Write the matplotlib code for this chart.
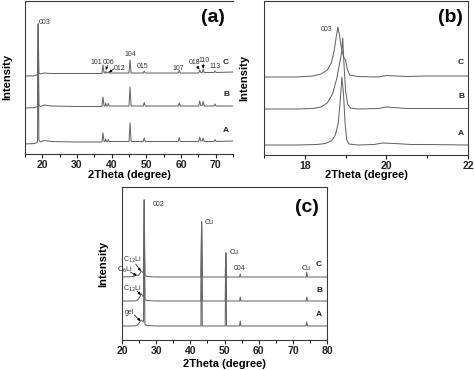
import numpy as np
import matplotlib.pyplot as plt

plt.rcParams['font.family'] = ['Liberation Sans', 'DejaVu Sans']

# ---------- panel (a): full XRD patterns, 15-75 deg ----------
x_a = [15, 17.8, 18.6, 18.8, 19.0, 19.4, 20.5, 22.5, 30,
       37.2, 37.5, 37.8, 38.1, 38.3, 38.5, 38.8, 39.0, 39.3,
       45.0, 45.3, 45.6, 49.1, 49.4, 49.7, 59.2, 59.5, 59.8,
       65.1, 65.4, 65.7, 66.1, 66.4, 66.7, 69.5, 69.8, 70.1, 75]
A_a = [0, 0.5, 2, 120, 4, 2, 3.5, 2.5, 2,
       2, 11, 2.5, 2.5, 5, 2.5, 2.5, 4.5, 2.5,
       2.5, 21, 2.5, 2.5, 6, 2.5, 2.5, 6.5, 2.5,
       2.5, 7, 3, 3, 6, 2.5, 2.5, 4.5, 2.5, 3]
B_a = [0, 0.3, 1.5, 84, 3, 1.5, 3, 2, 1.5,
       1.5, 11, 2, 2, 5, 2, 2, 4.5, 2,
       2, 21, 2, 2, 5.5, 2, 2, 5, 2,
       2, 7, 2.5, 2.5, 6.5, 2, 2, 4, 2, 2]
C_a = [1, 1.2, 2.5, 53, 4, 3, 4, 3.5, 3.5,
       3.5, 12, 4, 4, 5.5, 4, 4, 5, 4,
       4, 17, 4, 4, 6, 4, 4, 6.5, 4,
       4, 7, 4.5, 4.5, 8, 4.5, 4.5, 6, 4.5, 5]
offsets_a = {'A': 10, 'B': 46, 'C': 77}
hkl_a = ['003', '101', '006', '012', '104', '015', '107', '018', '110', '113']
hkl_a_x = [20.7, 35.7, 39.2, 42.2, 45.3, 49.0, 59.1, 63.9, 66.7, 69.8]
hkl_a_y = [132, 92, 92, 86, 100, 88, 86, 91, 94, 87]

# ---------- panel (b): zoom on the 003 reflection ----------
x_b_A = [17, 17.8, 18.3, 18.5, 18.65, 18.75, 18.82, 18.87, 18.91, 18.95, 18.99, 19.03,
         19.08, 19.3, 19.7, 19.9, 20.2, 20.6, 21, 22]
y_b_A = [0, 0, 0.5, 1.5, 4, 10, 22, 45, 68, 50, 20, 5,
         1, 0, 0.5, 2, 1.5, 0.5, 0.5, 0]
x_b_B = [17, 17.8, 18.2, 18.4, 18.55, 18.68, 18.78, 18.85, 18.9, 18.93, 18.96, 19.0,
         19.05, 19.12, 19.3, 19.8, 20.0, 20.5, 21, 22]
y_b_B = [0, 0, 0.5, 2, 6, 15, 30, 45, 56, 71, 45, 18,
         5, 1, 0, 0.5, 2, 0.5, 0.5, 0.5]
x_b_C = [17, 17.8, 18.2, 18.4, 18.55, 18.65, 18.72, 18.77, 18.81, 18.85, 18.9, 18.96,
         19.0, 19.04, 19.1, 19.3, 19.8, 20.0, 20.5, 21, 22]
y_b_C = [0, 0, 1, 3, 7, 14, 26, 40, 50, 42, 28, 19,
         17, 8, 2, 0.5, 0, 1.5, 0.5, 1, 1]
offsets_b = {'A': 10, 'B': 46, 'C': 78}

# ---------- panel (c): graphite / lithiated patterns, 20-80 deg ----------
x_c = [20, 23.5, 24.3, 24.8, 25.2, 25.6, 26.0, 26.3, 26.5, 26.7, 27.2, 30,
       43.1, 43.3, 43.5, 50.2, 50.4, 50.6, 54.4, 54.6, 54.8, 73.9, 74.1, 74.3, 80]
A_c = [0, 0, 0.5, 2, 4, 6, 5, 4, 126, 2, 0.5, 0,
       0, 104, 0, 0, 73, 0, 0, 5, 0, 0, 4, 0, 0]
B_c = [0, 0, 0.5, 2, 4, 7, 6, 4, 101, 2, 0.5, 0,
       0, 79, 0, 0, 48, 0, 0, 4, 0, 0, 4, 0, 0]
C_c = [0, 0.5, 2, 1.5, 3, 6, 5, 4, 77, 2, 0.5, 0,
       0, 55, 0, 0, 24, 0, 0, 3, 0, 0, 5, 0, 0]
offsets_c = {'A': 14, 'B': 39, 'C': 63}

line_kw = dict(color='#666666', lw=0.75)
W, H = 474, 370


def make_axes(left, right, top, bottom):
    return fig.add_axes([left / W, (H - bottom) / H, (right - left) / W, (bottom - top) / H])


def style(ax, xlim, ylim, major, minor, ylab_off, xlab_off):
    ax.set_xlim(*xlim)
    ax.set_ylim(*ylim)
    ax.set_xticks(major)
    ax.set_xticks(minor, minor=True)
    ax.set_yticks([])
    ax.tick_params(axis='x', which='major', direction='out', length=3, width=0.8,
                   labelsize=7.5, pad=1.5, colors='#222222')
    ax.tick_params(axis='x', which='minor', direction='out', length=2, width=0.7)
    for lab in ax.get_xticklabels():
        lab.set_fontweight('bold')
    for s in ax.spines.values():
        s.set_color('#3a3a3a')
        s.set_linewidth(0.8)
    ax.set_xlabel('2Theta (degree)', fontsize=8, fontweight='bold')
    ax.set_ylabel('Intensity', fontsize=8, fontweight='bold')
    ax.xaxis.set_label_coords(0.5, xlab_off)
    ax.yaxis.set_label_coords(ylab_off, 0.5)


fig = plt.figure(figsize=(4.74, 3.70), dpi=100)

arrow = dict(arrowstyle='-|>', lw=0.5, color='k', mutation_scale=4, shrinkA=0, shrinkB=0)
small = dict(fontsize=5, color='#333333', ha='center', va='center')
sample = dict(fontsize=6, fontweight='bold', color='#222222', ha='center', va='center')

# ----- (a)
ax1 = make_axes(25, 233, 0.5, 154)
for name, ys in zip(['A', 'B', 'C'], [A_a, B_a, C_a]):
    ax1.plot(x_a, np.array(ys) + offsets_a[name], **line_kw)
style(ax1, (15, 75), (0, 153.5), range(20, 71, 10), range(15, 76, 10),
      -13 / 208, -16 / 153.5)
ax1.spines['right'].set_visible(False)
for t, x, y in zip(hkl_a, hkl_a_x, hkl_a_y):
    ax1.text(x, y, t, **small)
ax1.annotate('', xy=(38.3, 84), xytext=(38.8, 88.5), arrowprops=arrow)
ax1.annotate('', xy=(39.2, 81.5), xytext=(40.6, 85), arrowprops=arrow)
ax1.annotate('', xy=(65.3, 84.5), xytext=(64.6, 88), arrowprops=arrow)
ax1.annotate('', xy=(66.4, 85.5), xytext=(66.4, 90), arrowprops=arrow)
for name, y in zip(['C', 'B', 'A'], [92, 60, 23]):
    ax1.text(73.0, y, name, **sample)
ax1.text(69.2, 137, '(a)', fontsize=14, fontweight='bold', ha='center', va='center')

# ----- (b)
ax2 = make_axes(264, 468, 0.5, 155)
ax2.plot(x_b_A, np.array(y_b_A) + offsets_b['A'], **line_kw)
ax2.plot(x_b_B, np.array(y_b_B) + offsets_b['B'], **line_kw)
ax2.plot(x_b_C, np.array(y_b_C) + offsets_b['C'], **line_kw)
style(ax2, (17, 22), (0, 154.5), [18, 20, 22], [17, 19, 21], -15 / 204, -15 / 154.5)
ax2.text(18.54, 126, '003', **small)
for name, y in zip(['C', 'B', 'A'], [93, 59, 22]):
    ax2.text(21.83, y, name, **sample)
ax2.text(21.56, 138, '(b)', fontsize=14, fontweight='bold', ha='center', va='center')

# ----- (c)
ax3 = make_axes(122, 327, 187, 340)
for name, ys in zip(['A', 'B', 'C'], [A_c, B_c, C_c]):
    ax3.plot(x_c, np.array(ys) + offsets_c[name], **line_kw)
style(ax3, (20, 80), (0, 153), range(20, 81, 10), range(25, 80, 10),
      -14 / 205, -19 / 153)
ax3.text(29.0, 136, '002', fontsize=5, color='#333333', ha='left', va='center')
ax3.text(44.3, 118, 'Cu', fontsize=5, color='#333333', ha='left', va='center')
ax3.text(51.6, 87, 'Cu', fontsize=5, color='#333333', ha='left', va='center')
ax3.text(54.5, 71, '004', **small)
ax3.text(73.9, 71, 'Cu', **small)
ax3.text(22.9, 80, 'C$_{12}$Li', **small)
ax3.text(20.9, 70, 'C$_6$Li', **small)
ax3.text(22.9, 51, 'C$_{12}$Li', **small)
ax3.text(22.3, 27, 'gel', **small)
ax3.annotate('', xy=(25.5, 69), xytext=(24.0, 76), arrowprops=arrow)
ax3.annotate('', xy=(24.3, 64.5), xytext=(22.4, 68), arrowprops=arrow)
ax3.annotate('', xy=(25.5, 45), xytext=(24.4, 49), arrowprops=arrow)
ax3.annotate('', xy=(25.4, 19), xytext=(23.6, 25), arrowprops=arrow)
for name, y in zip(['C', 'B', 'A'], [75, 50, 25]):
    ax3.text(77.7, y, name, **sample)
ax3.text(74.1, 133, '(c)', fontsize=14, fontweight='bold', ha='center', va='center')

fig.savefig('out.png', dpi=100)
